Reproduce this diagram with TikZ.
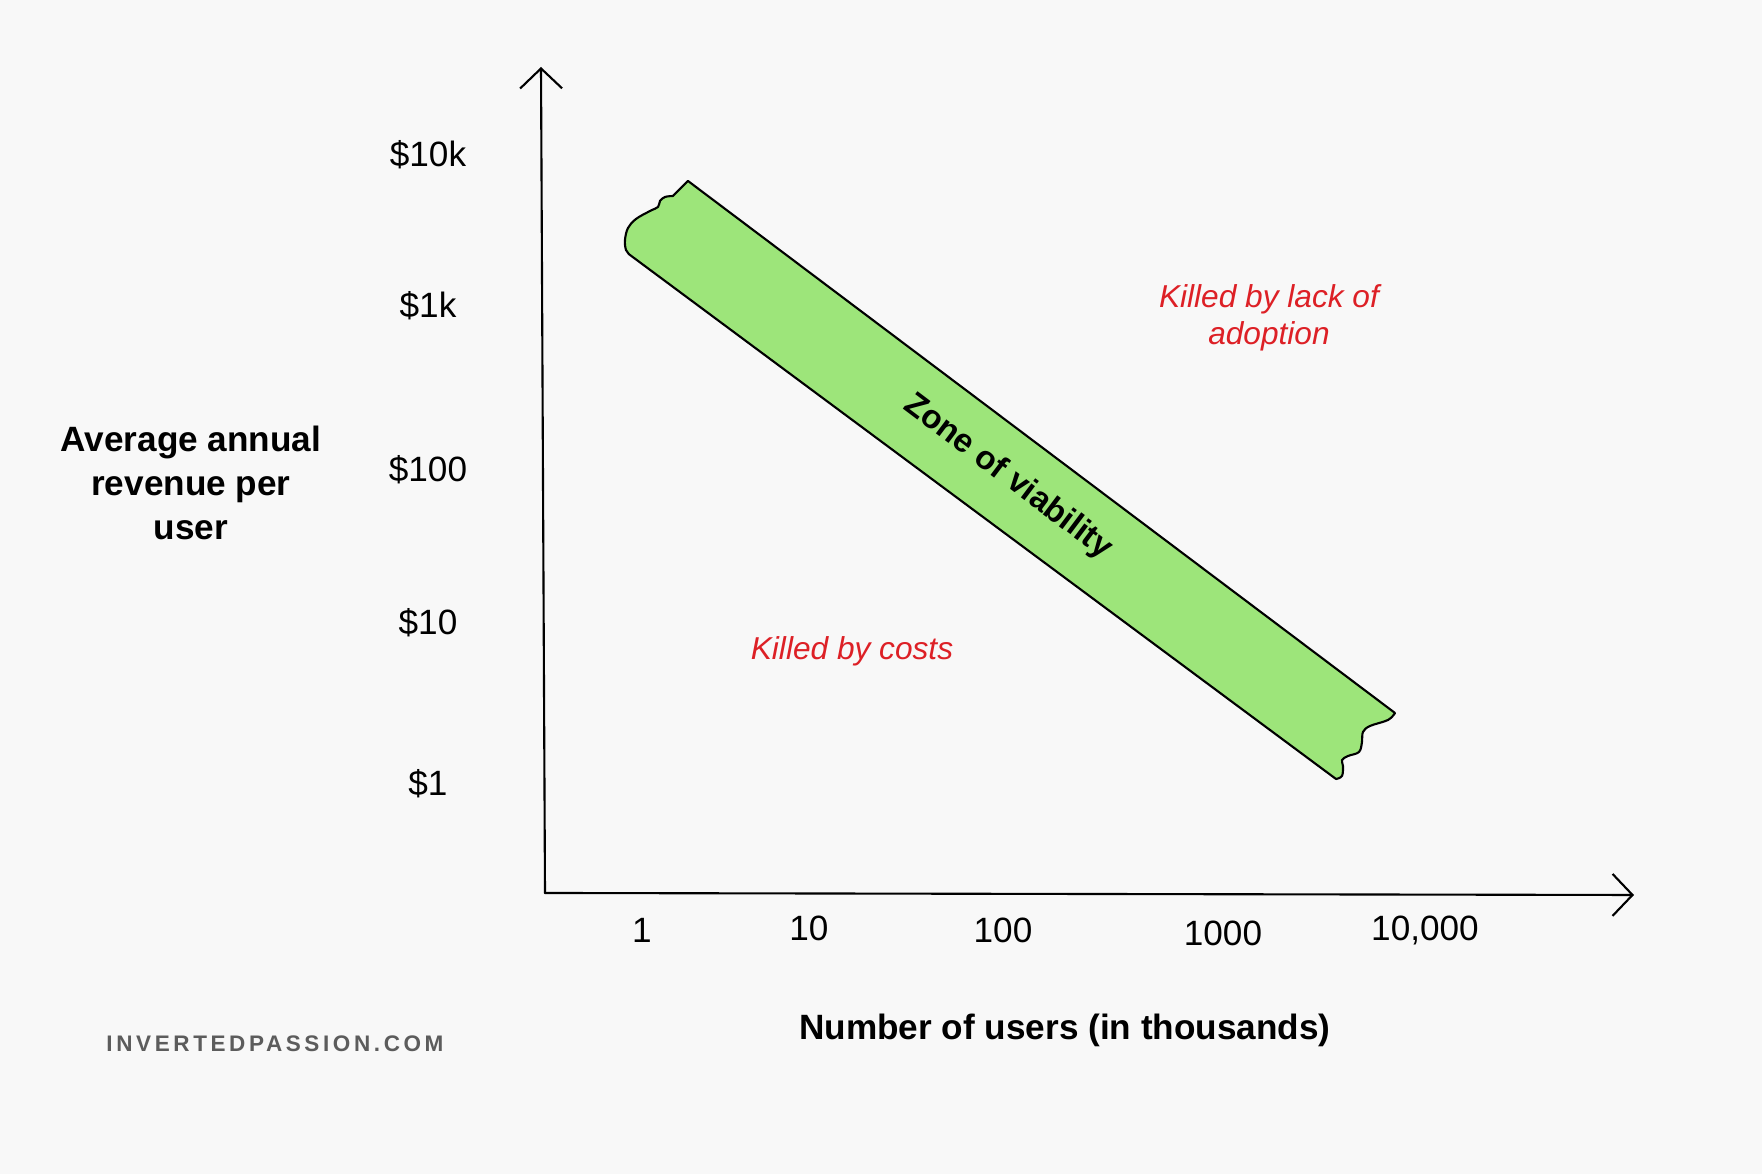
\documentclass[tikz,border=0pt]{standalone}
\usepackage{fontspec}
\setmainfont{Liberation Sans}
\newfontfamily\sitefont[LetterSpace=16]{Liberation Sans}
\usetikzlibrary{arrows.meta}
\definecolor{papergray}{RGB}{248,248,248}
\definecolor{zonegreen}{RGB}{157,229,122}
\definecolor{killred}{RGB}{221,32,38}
\definecolor{sitegray}{RGB}{92,92,92}
\tikzset{
  axis/.style={line width=0.6pt, ->},
  ticklab/.style={font=\fontsize{10}{12}\selectfont},
  axistitle/.style={font=\bfseries\fontsize{10}{12.4}\selectfont, align=center},
  killed/.style={text=killred, font=\itshape\fontsize{9}{10.5}\selectfont, align=center},
  zone/.style={fill=zonegreen, draw=black, line width=0.6pt}
}
\begin{document}
\begin{tikzpicture}[x=0.01cm, y=-0.01cm, line join=round, line cap=round,
    >={Straight Barb[length=0.2cm,width=0.42cm]}]
    \fill[papergray] (0,0) rectangle (1762,1174);
    \useasboundingbox (0,0) rectangle (1762,1174);
    % axes
    \coordinate (O) at (545,893);
    \coordinate (ytop) at (541,67);
    \coordinate (xend) at (1634,895);
    \draw[axis] (O) -- (ytop);
    \draw[axis] (O) -- (xend);
    % band
    \draw[zone] (688,181) -- (673,196)
        -- plot[smooth, tension=0.6] coordinates {(673,196) (665,197) (660,201) (658,207) (650,211) (636,219) (628,228) (625,240) (626,250) (630,255)}
        -- (1336,779)
        -- plot[smooth, tension=0.6] coordinates {(1336,779) (1342,776) (1343,766) (1342,760) (1348,756) (1359,752) (1362,742) (1363,732) (1370,726) (1388,720) (1395,713)}
        -- cycle;
    \node[rotate=-37, font=\bfseries\fontsize{9.4}{11}\selectfont] (zonelab) at (1008,477) {Zone of viability};
    % tick labels
    \foreach \lab/\ypos [count=\i] in {{\$10k}/155, {\$1k}/306, {\$100}/470, {\$10}/623, {\$1}/784}
        \node[ticklab] (ylab\i) at (428,\ypos) {\lab};
    \foreach \lab/\xpos/\ypos [count=\i] in {1/642/930, 10/809/928, 100/1003/930, 1000/1223/933, {10,000}/1425/930}
        \node[ticklab] (xlab\i) at (\xpos,\ypos) {\lab};
    \node[axistitle] (ytitle) at (191,483) {Average annual\\revenue per\\user};
    \node[axistitle] (xtitle) at (1065,1030) {Number of users (in thousands)};
    \node[killed] (lack) at (1269,318) {Killed by lack of\\adoption};
    \node[killed] (costs) at (852,651) {Killed by costs};
    \node[text=sitegray, font=\sitefont\bfseries\fontsize{6.4}{7}\selectfont] (site) at (275,1044) {INVERTEDPASSION.COM};
\end{tikzpicture}
\end{document}
